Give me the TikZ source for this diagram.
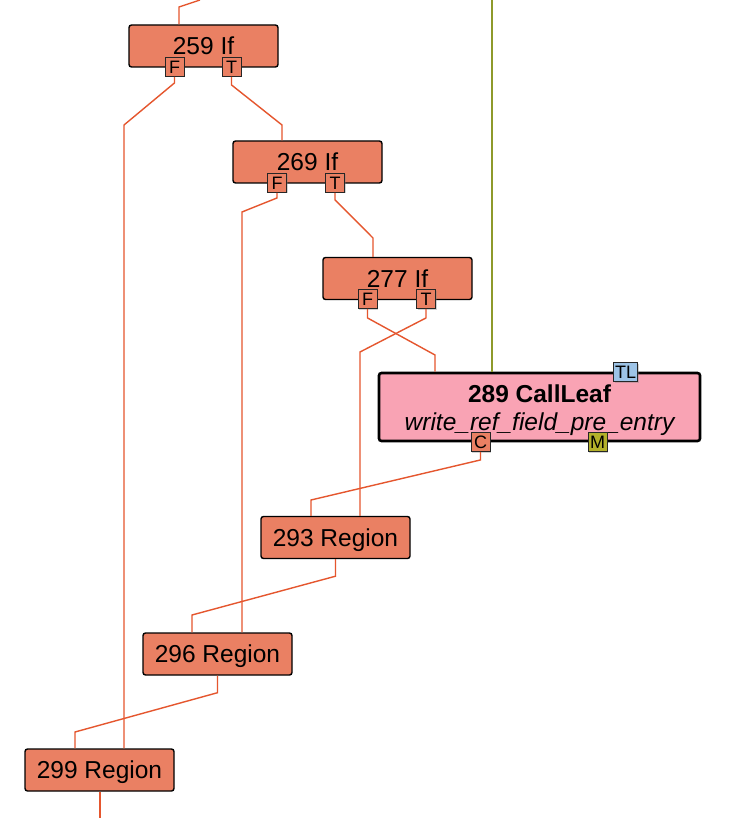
\documentclass[tikz,border=0pt]{standalone}
\usepackage{fontspec}
\setmainfont{Liberation Sans}
\usetikzlibrary{shadows}
\definecolor{nodeor}{HTML}{EA8063}
\definecolor{edgeor}{HTML}{E5562E}
\definecolor{callpink}{HTML}{F9A3B4}
\definecolor{tlblue}{HTML}{9DC3E6}
\definecolor{molive}{HTML}{B3B02A}
\definecolor{oliveline}{HTML}{8E9A2B}
\tikzset{
  opbox/.style={draw=black, line width=1.4pt, rounded corners=2.5pt, fill=nodeor,
    minimum width=149pt, minimum height=42pt, inner sep=0pt,
    text height=17.5pt, text depth=0pt,
    font=\fontsize{24.5}{28}\selectfont},
  callbox/.style={draw=black, line width=2.6pt, rounded corners=2.5pt, fill=callpink,
    minimum width=321pt, minimum height=68pt, inner sep=0pt},
  calltext/.style={anchor=base, inner sep=0pt, font=\fontsize{24.5}{28}\selectfont},
  port/.style={draw=black!85, line width=0.9pt, fill=nodeor, minimum width=19pt,
    minimum height=19pt, inner sep=1.5pt, font=\fontsize{18}{18}\selectfont,
    text height=13pt, text depth=0pt,
    drop shadow={shadow xshift=1pt, shadow yshift=-1pt, opacity=0.35}},
  edge/.style={draw=edgeor, line width=1.4pt},
  oedge/.style={draw=oliveline, line width=1.4pt}
}
\begin{document}
\begin{tikzpicture}[x=1pt,y=-1pt]
\useasboundingbox (0,0) rectangle (728,818);
\fill[white] (0,0) rectangle (728,818);

% nodes
\node[opbox] (n259) at (203.5,46) {259 If};
\node[opbox] (n269) at (307.5,162) {269 If};
\node[opbox] (n277) at (397.5,278.5) {277 If};
\node[callbox] (n289) at (539.5,407) {};
\node[calltext] (n289a) at (539.5,402) {\bfseries 289 CallLeaf};
\node[calltext] (n289b) at (539.5,430) {\itshape write\_ref\_field\_pre\_entry};
\node[opbox] (n293) at (335.5,537.5) {293 Region};
\node[opbox] (n296) at (217.5,654) {296 Region};
\node[opbox] (n299) at (99.5,770) {299 Region};

% ports
\node[port] (p259F) at (174.5,67) {F};
\node[port] (p259T) at (231.5,67) {T};
\node[port] (p269F) at (277,183) {F};
\node[port] (p269T) at (335,183) {T};
\node[port] (p277F) at (367.5,299) {F};
\node[port] (p277T) at (426,299) {T};
\node[port, fill=tlblue] (p289TL) at (625.5,372) {TL};
\node[port] (p289C) at (480.5,442) {C};
\node[port, fill=molive] (p289M) at (597.5,442) {M};

% free ends
\coordinate (top259) at (200,0);
\coordinate (topolive) at (492,0);
\coordinate (bot299) at (100,818);

% connectors
\draw[edge] (top259) -- (179,7) -- ([xshift=-24.5pt]n259.north);
\draw[oedge] (topolive) -- ([xshift=-47.5pt]n289.north);
\draw[edge] (p259F.south) -- ++(0,6) -- (124,125) -- ([xshift=24.5pt]n299.north);
\draw[edge] (p259T.south) -- ++(0,8) -- (282,125) -- ([xshift=-25.5pt]n269.north);
\draw[edge] (p269F.south) -- ++(0,5) -- (242,212) -- ([xshift=24.5pt]n296.north);
\draw[edge] (p269T.south) -- ++(0,7) -- (373,238) -- ([xshift=-24.5pt]n277.north);
\draw[edge] (p277F.south) -- ++(0,9) -- (435,355) -- ([xshift=-104.5pt]n289.north);
\draw[edge] (p277T.south) -- ++(0,9) -- (360,352) -- ([xshift=24.5pt]n293.north);
\draw[edge] (p289C.south) -- ++(0,8) -- (311,500) -- ([xshift=-24.5pt]n293.north);
\draw[edge] (n293.south) -- ++(0,17) -- (192,615) -- ([xshift=-25.5pt]n296.north);
\draw[edge] (n296.south) -- ++(0,17) -- (75,732) -- ([xshift=-24.5pt]n299.north);
\draw[edge] ([xshift=0.5pt]n299.south) -- (bot299);
\end{tikzpicture}
\end{document}
